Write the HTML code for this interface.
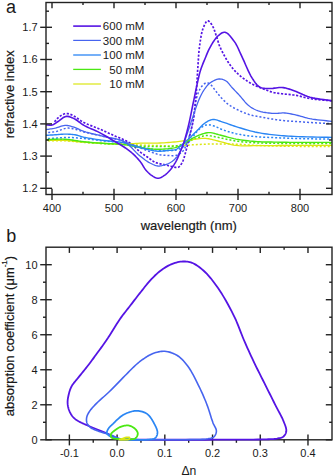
<!DOCTYPE html>
<html><head><meta charset="utf-8"><style>
html,body{margin:0;padding:0;background:#fff;}
body{width:334px;height:476px;position:relative;overflow:hidden;font-family:"Liberation Sans",sans-serif;}
</style></head><body>
<svg width="334" height="476" viewBox="0 0 334 476" style="position:absolute;left:0;top:0">
<defs><clipPath id="ca"><rect x="46" y="2.5" width="286" height="192"/></clipPath><clipPath id="cb"><rect x="46" y="247" width="286" height="195"/></clipPath></defs>
<g clip-path="url(#ca)" fill="none" stroke-linejoin="round" stroke-linecap="round">
<path d="M48.00,140.80 L50.12,140.79 L52.23,140.77 L54.33,140.74 L56.44,140.71 L58.56,140.69 L60.69,140.70 L62.83,140.73 L65.00,140.80 L67.32,140.92 L69.67,141.09 L72.03,141.30 L74.40,141.52 L76.79,141.76 L79.19,141.99 L81.59,142.21 L84.00,142.40 L86.47,142.57 L88.96,142.74 L91.46,142.90 L93.97,143.05 L96.48,143.20 L98.99,143.34 L101.50,143.47 L104.00,143.60 L106.51,143.72 L109.05,143.83 L111.60,143.94 L114.14,144.03 L116.66,144.13 L119.16,144.22 L121.61,144.31 L124.00,144.40 L126.07,144.48 L128.08,144.56 L130.05,144.64 L132.00,144.71 L133.95,144.78 L135.92,144.86 L137.93,144.93 L140.00,145.00 L142.41,145.08 L144.90,145.16 L147.43,145.24 L150.00,145.31 L152.57,145.39 L155.10,145.46 L157.59,145.53 L160.00,145.60 L162.09,145.67 L164.15,145.74 L166.18,145.83 L168.18,145.90 L170.16,145.97 L172.12,146.01 L174.06,146.02 L176.00,146.00 L177.78,145.94 L179.51,145.84 L181.21,145.72 L182.90,145.57 L184.61,145.42 L186.35,145.27 L188.14,145.13 L190.00,145.00 L192.31,144.86 L194.69,144.71 L197.12,144.56 L199.61,144.42 L202.15,144.29 L204.73,144.17 L207.35,144.07 L210.00,144.00 L213.09,143.95 L216.28,143.92 L219.55,143.91 L222.85,143.93 L226.18,143.97 L229.49,144.03 L232.78,144.10 L236.00,144.20 L239.01,144.32 L241.93,144.48 L244.80,144.67 L247.68,144.87 L250.59,145.07 L253.59,145.27 L256.71,145.45 L260.00,145.60 L264.54,145.76 L269.39,145.89 L274.45,146.01 L279.64,146.11 L284.88,146.19 L290.07,146.27 L295.14,146.34 L300.00,146.40 L304.17,146.45 L308.25,146.48 L312.26,146.51 L316.22,146.53 L320.16,146.55 L324.08,146.56 L328.02,146.58 L332.00,146.60" stroke="#dbe612" stroke-width="1.50" stroke-dasharray="2,2" stroke-linecap="butt"/>
<path d="M48.00,140.20 L50.12,140.16 L52.23,140.10 L54.34,140.04 L56.44,139.97 L58.56,139.93 L60.69,139.91 L62.83,139.93 L65.00,140.00 L67.32,140.14 L69.67,140.35 L72.03,140.60 L74.41,140.88 L76.79,141.18 L79.19,141.48 L81.59,141.76 L84.00,142.00 L86.47,142.23 L88.96,142.45 L91.46,142.67 L93.97,142.88 L96.47,143.08 L98.99,143.27 L101.50,143.44 L104.00,143.60 L106.51,143.73 L109.05,143.83 L111.60,143.90 L114.14,143.97 L116.67,144.04 L119.16,144.13 L121.61,144.24 L124.00,144.40 L126.08,144.59 L128.11,144.81 L130.09,145.07 L132.05,145.33 L134.01,145.59 L135.97,145.84 L137.96,146.04 L140.00,146.20 L142.22,146.31 L144.51,146.38 L146.83,146.41 L149.16,146.42 L151.47,146.42 L153.73,146.41 L155.92,146.40 L158.00,146.40 L159.62,146.42 L161.20,146.45 L162.73,146.48 L164.22,146.51 L165.69,146.52 L167.14,146.52 L168.57,146.48 L170.00,146.40 L171.29,146.31 L172.56,146.21 L173.80,146.10 L175.03,145.96 L176.25,145.79 L177.48,145.58 L178.73,145.32 L180.00,145.00 L181.48,144.54 L183.01,143.97 L184.55,143.33 L186.10,142.64 L187.64,141.93 L189.15,141.23 L190.61,140.58 L192.00,140.00 L193.08,139.57 L194.12,139.15 L195.14,138.75 L196.14,138.35 L197.12,137.98 L198.08,137.63 L199.04,137.30 L200.00,137.00 L200.83,136.74 L201.64,136.49 L202.44,136.25 L203.23,136.03 L204.02,135.83 L204.82,135.68 L205.65,135.56 L206.50,135.50 L207.48,135.50 L208.45,135.58 L209.44,135.71 L210.44,135.88 L211.49,136.09 L212.58,136.33 L213.75,136.57 L215.00,136.80 L217.19,137.22 L219.62,137.72 L222.23,138.29 L224.98,138.88 L227.78,139.48 L230.60,140.05 L233.35,140.57 L236.00,141.00 L238.41,141.33 L240.81,141.63 L243.18,141.89 L245.55,142.11 L247.91,142.31 L250.27,142.49 L252.63,142.65 L255.00,142.80 L257.35,142.93 L259.68,143.02 L261.99,143.09 L264.31,143.14 L266.66,143.19 L269.04,143.22 L271.48,143.26 L274.00,143.30 L277.04,143.35 L280.15,143.40 L283.33,143.45 L286.58,143.49 L289.87,143.52 L293.21,143.55 L296.59,143.58 L300.00,143.60 L303.84,143.62 L307.77,143.62 L311.76,143.63 L315.79,143.62 L319.85,143.62 L323.92,143.61 L327.98,143.60 L332.00,143.60" stroke="#4ae812" stroke-width="1.50" stroke-dasharray="2,2" stroke-linecap="butt"/>
<path d="M48.00,138.60 L48.99,138.55 L49.98,138.51 L50.96,138.46 L51.94,138.42 L52.94,138.37 L53.94,138.32 L54.96,138.26 L56.00,138.20 L57.20,138.11 L58.42,138.00 L59.67,137.87 L60.93,137.75 L62.20,137.63 L63.47,137.52 L64.74,137.45 L66.00,137.40 L67.26,137.39 L68.53,137.40 L69.80,137.44 L71.07,137.49 L72.33,137.56 L73.58,137.64 L74.80,137.72 L76.00,137.80 L77.02,137.88 L77.98,137.96 L78.91,138.05 L79.83,138.14 L80.78,138.24 L81.77,138.35 L82.83,138.47 L84.00,138.60 L86.07,138.84 L88.37,139.11 L90.84,139.42 L93.44,139.74 L96.10,140.07 L98.79,140.40 L101.44,140.71 L104.00,141.00 L106.52,141.25 L109.06,141.47 L111.61,141.68 L114.15,141.88 L116.68,142.10 L119.17,142.35 L121.62,142.64 L124.00,143.00 L126.09,143.39 L128.12,143.83 L130.10,144.32 L132.06,144.83 L134.01,145.35 L135.97,145.86 L137.96,146.35 L140.00,146.80 L142.22,147.26 L144.50,147.73 L146.82,148.19 L149.15,148.63 L151.46,149.05 L153.72,149.42 L155.91,149.74 L158.00,150.00 L159.63,150.17 L161.22,150.30 L162.78,150.41 L164.30,150.49 L165.78,150.53 L167.23,150.55 L168.63,150.54 L170.00,150.50 L171.08,150.46 L172.11,150.43 L173.11,150.39 L174.09,150.32 L175.06,150.22 L176.02,150.06 L177.00,149.82 L178.00,149.50 L179.25,148.99 L180.52,148.37 L181.81,147.65 L183.09,146.84 L184.37,145.96 L185.62,145.02 L186.83,144.03 L188.00,143.00 L189.24,141.74 L190.45,140.31 L191.62,138.76 L192.76,137.17 L193.86,135.59 L194.94,134.07 L195.98,132.69 L197.00,131.50 L197.66,130.79 L198.29,130.14 L198.90,129.52 L199.50,128.94 L200.10,128.41 L200.71,127.91 L201.34,127.44 L202.00,127.00 L202.64,126.61 L203.28,126.24 L203.94,125.89 L204.61,125.58 L205.29,125.31 L205.98,125.08 L206.69,124.91 L207.40,124.80 L208.18,124.76 L208.98,124.80 L209.80,124.90 L210.62,125.06 L211.46,125.26 L212.30,125.49 L213.15,125.74 L214.00,126.00 L214.96,126.33 L215.91,126.72 L216.86,127.16 L217.81,127.62 L218.80,128.10 L219.82,128.59 L220.88,129.06 L222.00,129.50 L223.54,130.05 L225.15,130.61 L226.84,131.17 L228.59,131.72 L230.39,132.26 L232.24,132.77 L234.11,133.25 L236.00,133.70 L238.22,134.17 L240.53,134.61 L242.89,135.02 L245.30,135.40 L247.73,135.74 L250.17,136.06 L252.60,136.34 L255.00,136.60 L257.35,136.82 L259.67,136.99 L261.99,137.12 L264.31,137.23 L266.65,137.32 L269.04,137.40 L271.48,137.49 L274.00,137.60 L277.04,137.74 L280.15,137.88 L283.33,138.01 L286.58,138.14 L289.87,138.27 L293.21,138.39 L296.59,138.50 L300.00,138.60 L303.84,138.69 L307.77,138.77 L311.76,138.83 L315.79,138.89 L319.85,138.94 L323.92,138.99 L327.98,139.04 L332.00,139.10" stroke="#2a86f4" stroke-width="1.50" stroke-dasharray="2,2" stroke-linecap="butt"/>
<path d="M48.20,132.60 L49.17,132.47 L50.12,132.36 L51.07,132.25 L52.02,132.14 L52.98,132.02 L53.96,131.88 L54.96,131.71 L56.00,131.50 L57.34,131.15 L58.74,130.68 L60.19,130.15 L61.67,129.60 L63.14,129.08 L64.61,128.62 L66.03,128.28 L67.40,128.10 L68.53,128.08 L69.64,128.14 L70.72,128.28 L71.79,128.48 L72.85,128.72 L73.91,128.98 L74.95,129.24 L76.00,129.50 L77.00,129.76 L77.94,130.04 L78.87,130.34 L79.79,130.66 L80.75,130.99 L81.75,131.33 L82.82,131.67 L84.00,132.00 L86.06,132.53 L88.36,133.07 L90.83,133.63 L93.43,134.19 L96.10,134.77 L98.79,135.34 L101.44,135.92 L104.00,136.50 L106.54,137.07 L109.13,137.63 L111.74,138.18 L114.34,138.74 L116.90,139.32 L119.38,139.91 L121.76,140.54 L124.00,141.20 L125.67,141.75 L127.25,142.33 L128.77,142.93 L130.24,143.54 L131.68,144.16 L133.11,144.78 L134.54,145.40 L136.00,146.00 L137.41,146.58 L138.81,147.17 L140.19,147.75 L141.57,148.34 L142.95,148.92 L144.35,149.49 L145.76,150.05 L147.20,150.60 L148.77,151.18 L150.39,151.79 L152.05,152.39 L153.71,152.98 L155.36,153.54 L156.97,154.04 L158.52,154.46 L160.00,154.80 L161.08,154.99 L162.11,155.13 L163.11,155.22 L164.09,155.29 L165.06,155.33 L166.03,155.35 L167.00,155.37 L168.00,155.40 L169.04,155.45 L170.10,155.53 L171.17,155.61 L172.23,155.67 L173.29,155.69 L174.32,155.65 L175.33,155.52 L176.30,155.30 L177.22,154.99 L178.13,154.61 L179.03,154.16 L179.90,153.65 L180.74,153.08 L181.54,152.44 L182.29,151.75 L183.00,151.00 L183.75,150.01 L184.43,148.89 L185.04,147.67 L185.60,146.38 L186.12,145.04 L186.62,143.68 L187.11,142.32 L187.60,141.00 L188.09,139.67 L188.57,138.32 L189.01,136.96 L189.44,135.59 L189.85,134.20 L190.25,132.81 L190.63,131.41 L191.00,130.00 L191.37,128.54 L191.71,127.09 L192.04,125.63 L192.35,124.15 L192.65,122.66 L192.94,121.14 L193.22,119.59 L193.50,118.00 L193.79,116.10 L194.03,114.11 L194.24,112.06 L194.45,109.99 L194.67,107.92 L194.92,105.87 L195.23,103.89 L195.60,102.00 L195.98,100.37 L196.40,98.74 L196.84,97.12 L197.32,95.55 L197.82,94.03 L198.35,92.59 L198.91,91.24 L199.50,90.00 L199.95,89.15 L200.42,88.34 L200.90,87.58 L201.40,86.85 L201.91,86.18 L202.43,85.56 L202.96,85.00 L203.50,84.50 L203.92,84.15 L204.34,83.82 L204.78,83.51 L205.21,83.24 L205.66,83.01 L206.10,82.84 L206.55,82.73 L207.00,82.70 L207.49,82.76 L207.99,82.91 L208.49,83.14 L209.00,83.44 L209.50,83.78 L210.01,84.17 L210.51,84.58 L211.00,85.00 L211.64,85.62 L212.26,86.33 L212.87,87.11 L213.49,87.95 L214.10,88.82 L214.72,89.69 L215.35,90.56 L216.00,91.40 L216.71,92.28 L217.44,93.18 L218.17,94.09 L218.92,94.99 L219.67,95.90 L220.44,96.79 L221.21,97.66 L222.00,98.50 L222.77,99.30 L223.54,100.09 L224.32,100.87 L225.12,101.63 L225.92,102.38 L226.75,103.11 L227.61,103.82 L228.50,104.50 L229.47,105.19 L230.46,105.86 L231.48,106.50 L232.53,107.12 L233.61,107.73 L234.71,108.32 L235.84,108.91 L237.00,109.50 L238.37,110.18 L239.78,110.85 L241.23,111.52 L242.72,112.17 L244.24,112.80 L245.79,113.40 L247.38,113.97 L249.00,114.50 L250.87,115.03 L252.82,115.52 L254.82,115.95 L256.86,116.35 L258.91,116.73 L260.97,117.09 L263.00,117.44 L265.00,117.80 L266.88,118.14 L268.73,118.48 L270.56,118.80 L272.39,119.11 L274.23,119.40 L276.10,119.68 L278.02,119.95 L280.00,120.20 L282.33,120.46 L284.68,120.69 L287.08,120.89 L289.52,121.08 L292.03,121.26 L294.60,121.43 L297.26,121.61 L300.00,121.80 L303.64,122.05 L307.47,122.30 L311.45,122.55 L315.53,122.80 L319.67,123.05 L323.82,123.30 L327.95,123.55 L332.00,123.80" stroke="#4664ef" stroke-width="1.50" stroke-dasharray="2,2" stroke-linecap="butt"/>
<path d="M54.50,121.80 L55.05,121.19 L55.59,120.56 L56.11,119.93 L56.65,119.30 L57.19,118.69 L57.76,118.09 L58.36,117.53 L59.00,117.00 L59.73,116.46 L60.51,115.91 L61.33,115.38 L62.17,114.88 L63.03,114.43 L63.89,114.05 L64.75,113.77 L65.60,113.60 L66.38,113.54 L67.15,113.57 L67.92,113.67 L68.70,113.83 L69.49,114.06 L70.30,114.33 L71.13,114.65 L72.00,115.00 L73.34,115.65 L74.73,116.47 L76.18,117.44 L77.67,118.49 L79.20,119.58 L80.77,120.66 L82.37,121.68 L84.00,122.60 L85.83,123.49 L87.73,124.33 L89.69,125.13 L91.68,125.90 L93.69,126.66 L95.69,127.42 L97.67,128.19 L99.60,129.00 L101.45,129.82 L103.31,130.66 L105.16,131.52 L107.00,132.38 L108.82,133.23 L110.59,134.06 L112.33,134.85 L114.00,135.60 L115.34,136.17 L116.65,136.71 L117.94,137.22 L119.20,137.71 L120.43,138.21 L121.64,138.71 L122.83,139.24 L124.00,139.80 L125.06,140.34 L126.10,140.87 L127.11,141.42 L128.11,141.98 L129.09,142.56 L130.07,143.17 L131.04,143.81 L132.00,144.50 L133.03,145.31 L134.04,146.19 L135.03,147.13 L136.02,148.09 L137.00,149.06 L137.99,150.02 L138.98,150.94 L140.00,151.80 L140.98,152.57 L141.98,153.32 L142.98,154.05 L143.98,154.76 L144.99,155.45 L146.00,156.14 L147.00,156.82 L148.00,157.50 L148.94,158.17 L149.87,158.85 L150.79,159.53 L151.71,160.20 L152.65,160.85 L153.60,161.45 L154.58,162.01 L155.60,162.50 L156.71,162.93 L157.87,163.29 L159.07,163.59 L160.29,163.85 L161.51,164.09 L162.71,164.32 L163.88,164.55 L165.00,164.80 L165.93,165.03 L166.83,165.26 L167.72,165.50 L168.59,165.72 L169.45,165.94 L170.30,166.14 L171.15,166.33 L172.00,166.50 L172.80,166.68 L173.62,166.89 L174.44,167.11 L175.25,167.32 L176.04,167.46 L176.80,167.53 L177.52,167.49 L178.20,167.30 L178.87,166.93 L179.50,166.41 L180.09,165.76 L180.65,165.02 L181.17,164.21 L181.67,163.35 L182.14,162.47 L182.60,161.60 L183.11,160.51 L183.57,159.35 L183.99,158.12 L184.37,156.84 L184.73,155.53 L185.08,154.19 L185.43,152.84 L185.80,151.50 L186.21,150.01 L186.60,148.52 L186.98,147.00 L187.35,145.45 L187.73,143.88 L188.10,142.27 L188.49,140.61 L188.90,138.90 L189.43,136.74 L190.00,134.50 L190.58,132.20 L191.18,129.84 L191.76,127.44 L192.32,124.99 L192.83,122.51 L193.30,120.00 L193.75,117.17 L194.16,114.29 L194.52,111.36 L194.85,108.39 L195.15,105.36 L195.44,102.29 L195.72,99.17 L196.00,96.00 L196.30,92.27 L196.58,88.36 L196.83,84.34 L197.07,80.28 L197.30,76.25 L197.52,72.32 L197.76,68.54 L198.00,65.00 L198.18,62.39 L198.35,59.88 L198.51,57.47 L198.67,55.11 L198.84,52.80 L199.05,50.51 L199.30,48.22 L199.60,45.90 L199.93,43.57 L200.27,41.17 L200.65,38.75 L201.05,36.36 L201.50,34.04 L202.00,31.84 L202.57,29.81 L203.20,28.00 L203.68,26.82 L204.19,25.60 L204.74,24.42 L205.30,23.32 L205.89,22.35 L206.49,21.57 L207.09,21.04 L207.70,20.80 L208.22,20.85 L208.76,21.11 L209.32,21.55 L209.88,22.11 L210.43,22.78 L210.98,23.50 L211.50,24.26 L212.00,25.00 L212.69,26.17 L213.33,27.53 L213.95,29.03 L214.54,30.63 L215.10,32.27 L215.65,33.91 L216.18,35.50 L216.70,37.00 L217.13,38.27 L217.52,39.51 L217.87,40.72 L218.22,41.92 L218.58,43.13 L218.98,44.37 L219.45,45.65 L220.00,47.00 L220.90,48.97 L221.94,51.11 L223.09,53.35 L224.32,55.63 L225.59,57.89 L226.86,60.06 L228.11,62.09 L229.30,63.90 L230.14,65.10 L230.96,66.22 L231.78,67.28 L232.60,68.28 L233.42,69.24 L234.26,70.17 L235.12,71.08 L236.00,72.00 L236.87,72.87 L237.74,73.71 L238.63,74.52 L239.53,75.32 L240.45,76.10 L241.40,76.87 L242.38,77.63 L243.40,78.40 L244.61,79.27 L245.86,80.14 L247.16,81.01 L248.50,81.86 L249.86,82.70 L251.24,83.50 L252.62,84.27 L254.00,85.00 L255.38,85.67 L256.80,86.31 L258.24,86.92 L259.68,87.50 L261.13,88.05 L262.55,88.58 L263.95,89.10 L265.30,89.60 L266.41,90.03 L267.45,90.44 L268.45,90.83 L269.44,91.22 L270.46,91.58 L271.54,91.94 L272.71,92.28 L274.00,92.60 L276.32,93.05 L278.96,93.43 L281.83,93.76 L284.83,94.06 L287.88,94.35 L290.87,94.66 L293.71,95.00 L296.30,95.40 L298.16,95.77 L299.89,96.17 L301.54,96.59 L303.15,97.03 L304.77,97.46 L306.42,97.87 L308.15,98.26 L310.00,98.60 L312.49,98.97 L315.12,99.29 L317.86,99.57 L320.66,99.83 L323.51,100.06 L326.37,100.30 L329.21,100.54 L332.00,100.80" stroke="#5514e4" stroke-width="1.70" stroke-dasharray="2.2,1.6" stroke-linecap="butt"/>
<path d="M46.00,140.40 L48.38,140.39 L50.75,140.36 L53.13,140.32 L55.50,140.29 L57.88,140.27 L60.25,140.27 L62.63,140.31 L65.00,140.40 L67.37,140.54 L69.74,140.74 L72.11,140.97 L74.47,141.23 L76.84,141.49 L79.21,141.75 L81.60,141.99 L84.00,142.20 L86.47,142.38 L88.96,142.56 L91.46,142.72 L93.97,142.87 L96.48,143.01 L98.99,143.14 L101.50,143.27 L104.00,143.40 L106.51,143.53 L109.05,143.68 L111.60,143.82 L114.14,143.95 L116.66,144.07 L119.16,144.15 L121.61,144.20 L124.00,144.20 L126.07,144.15 L128.08,144.05 L130.05,143.91 L132.00,143.75 L133.95,143.59 L135.92,143.43 L137.93,143.30 L140.00,143.20 L142.41,143.14 L144.89,143.11 L147.43,143.11 L150.00,143.11 L152.57,143.12 L155.11,143.11 L157.59,143.08 L160.00,143.00 L162.09,142.90 L164.15,142.79 L166.18,142.65 L168.18,142.51 L170.16,142.35 L172.12,142.17 L174.07,141.99 L176.00,141.80 L177.79,141.60 L179.55,141.39 L181.29,141.16 L183.02,140.92 L184.74,140.68 L186.47,140.45 L188.22,140.22 L190.00,140.00 L191.91,139.75 L193.86,139.47 L195.83,139.17 L197.81,138.89 L199.78,138.64 L201.73,138.46 L203.64,138.37 L205.50,138.40 L207.12,138.53 L208.68,138.76 L210.20,139.05 L211.70,139.40 L213.21,139.79 L214.75,140.19 L216.34,140.60 L218.00,141.00 L220.08,141.51 L222.21,142.10 L224.39,142.72 L226.62,143.36 L228.90,143.98 L231.22,144.55 L233.59,145.03 L236.00,145.40 L238.78,145.67 L241.59,145.82 L244.46,145.86 L247.39,145.84 L250.39,145.77 L253.48,145.69 L256.68,145.62 L260.00,145.60 L264.54,145.60 L269.39,145.58 L274.45,145.55 L279.64,145.52 L284.88,145.48 L290.08,145.45 L295.14,145.42 L300.00,145.40 L304.17,145.39 L308.25,145.39 L312.26,145.39 L316.22,145.39 L320.16,145.39 L324.08,145.40 L328.02,145.40 L332.00,145.40" stroke="#dbe612" stroke-width="1.30"/>
<path d="M46.00,139.60 L48.38,139.53 L50.75,139.43 L53.13,139.32 L55.51,139.21 L57.88,139.13 L60.26,139.09 L62.63,139.11 L65.00,139.20 L67.38,139.39 L69.74,139.66 L72.11,140.00 L74.47,140.38 L76.84,140.77 L79.21,141.15 L81.60,141.50 L84.00,141.80 L86.47,142.05 L88.96,142.28 L91.46,142.50 L93.96,142.69 L96.47,142.88 L98.99,143.05 L101.50,143.23 L104.00,143.40 L106.52,143.55 L109.05,143.68 L111.60,143.79 L114.15,143.89 L116.67,144.01 L119.17,144.16 L121.61,144.35 L124.00,144.60 L126.09,144.89 L128.14,145.23 L130.16,145.61 L132.15,146.01 L134.12,146.42 L136.08,146.82 L138.03,147.18 L140.00,147.50 L141.89,147.78 L143.78,148.06 L145.65,148.32 L147.52,148.57 L149.39,148.79 L151.26,148.97 L153.13,149.11 L155.00,149.20 L156.90,149.24 L158.82,149.25 L160.76,149.22 L162.70,149.16 L164.61,149.05 L166.47,148.91 L168.28,148.73 L170.00,148.50 L171.35,148.29 L172.65,148.08 L173.90,147.84 L175.13,147.57 L176.33,147.27 L177.54,146.91 L178.76,146.49 L180.00,146.00 L181.48,145.30 L182.98,144.47 L184.49,143.53 L186.00,142.53 L187.50,141.52 L188.98,140.53 L190.41,139.61 L191.80,138.80 L192.88,138.21 L193.91,137.64 L194.92,137.10 L195.92,136.58 L196.91,136.09 L197.91,135.63 L198.94,135.20 L200.00,134.80 L201.13,134.40 L202.29,134.01 L203.47,133.64 L204.66,133.30 L205.86,133.02 L207.07,132.80 L208.28,132.65 L209.50,132.60 L210.77,132.66 L212.04,132.84 L213.30,133.11 L214.58,133.45 L215.88,133.83 L217.21,134.23 L218.58,134.63 L220.00,135.00 L221.83,135.47 L223.73,135.98 L225.69,136.53 L227.69,137.08 L229.74,137.64 L231.81,138.17 L233.90,138.67 L236.00,139.10 L238.29,139.51 L240.62,139.89 L242.99,140.23 L245.38,140.54 L247.79,140.82 L250.20,141.08 L252.61,141.30 L255.00,141.50 L257.35,141.66 L259.68,141.78 L261.99,141.87 L264.31,141.93 L266.65,141.98 L269.04,142.01 L271.48,142.05 L274.00,142.10 L277.04,142.16 L280.15,142.21 L283.33,142.26 L286.58,142.29 L289.87,142.33 L293.21,142.36 L296.59,142.38 L300.00,142.40 L303.84,142.42 L307.77,142.42 L311.76,142.43 L315.79,142.42 L319.85,142.42 L323.92,142.41 L327.98,142.40 L332.00,142.40" stroke="#4ae812" stroke-width="1.40"/>
<path d="M46.00,135.30 L47.12,135.24 L48.24,135.18 L49.35,135.12 L50.47,135.06 L51.59,135.00 L52.72,134.94 L53.85,134.87 L55.00,134.80 L56.23,134.71 L57.46,134.60 L58.71,134.49 L59.97,134.37 L61.23,134.27 L62.49,134.18 L63.75,134.12 L65.00,134.10 L66.25,134.11 L67.52,134.13 L68.78,134.18 L70.04,134.25 L71.30,134.34 L72.55,134.46 L73.78,134.62 L75.00,134.80 L76.13,135.02 L77.21,135.28 L78.26,135.58 L79.31,135.90 L80.38,136.24 L81.51,136.57 L82.70,136.89 L84.00,137.20 L86.12,137.63 L88.43,138.07 L90.91,138.50 L93.49,138.93 L96.14,139.35 L98.81,139.75 L101.44,140.14 L104.00,140.50 L106.51,140.81 L109.05,141.07 L111.61,141.30 L114.16,141.52 L116.68,141.75 L119.18,142.03 L121.62,142.37 L124.00,142.80 L126.09,143.29 L128.12,143.85 L130.10,144.47 L132.06,145.12 L134.01,145.78 L135.97,146.43 L137.96,147.05 L140.00,147.60 L142.23,148.16 L144.53,148.73 L146.88,149.29 L149.24,149.82 L151.57,150.30 L153.83,150.70 L155.99,151.01 L158.00,151.20 L159.39,151.25 L160.72,151.24 L162.01,151.17 L163.25,151.06 L164.46,150.93 L165.65,150.78 L166.82,150.63 L168.00,150.50 L169.06,150.41 L170.13,150.33 L171.19,150.26 L172.24,150.18 L173.25,150.07 L174.22,149.91 L175.14,149.70 L176.00,149.40 L176.65,149.09 L177.24,148.74 L177.78,148.35 L178.30,147.93 L178.81,147.48 L179.34,147.01 L179.89,146.51 L180.50,146.00 L181.42,145.24 L182.41,144.42 L183.44,143.55 L184.50,142.64 L185.58,141.70 L186.67,140.74 L187.75,139.77 L188.80,138.80 L189.91,137.76 L191.02,136.68 L192.13,135.58 L193.24,134.46 L194.35,133.34 L195.45,132.23 L196.53,131.15 L197.60,130.10 L198.54,129.15 L199.46,128.19 L200.36,127.23 L201.25,126.29 L202.15,125.38 L203.07,124.51 L204.02,123.72 L205.00,123.00 L205.94,122.38 L206.90,121.79 L207.89,121.23 L208.89,120.71 L209.90,120.27 L210.92,119.91 L211.96,119.65 L213.00,119.50 L214.08,119.49 L215.15,119.62 L216.24,119.86 L217.34,120.19 L218.46,120.58 L219.60,120.99 L220.78,121.41 L222.00,121.80 L223.59,122.30 L225.24,122.85 L226.93,123.45 L228.67,124.07 L230.45,124.72 L232.27,125.36 L234.12,125.99 L236.00,126.60 L238.23,127.30 L240.53,128.02 L242.89,128.75 L245.29,129.46 L247.72,130.16 L250.16,130.83 L252.59,131.44 L255.00,132.00 L257.36,132.49 L259.72,132.93 L262.08,133.33 L264.45,133.69 L266.82,134.02 L269.20,134.33 L271.60,134.62 L274.00,134.90 L276.43,135.16 L278.81,135.39 L281.18,135.60 L283.56,135.78 L286.01,135.95 L288.54,136.11 L291.19,136.25 L294.00,136.40 L298.17,136.58 L302.65,136.74 L307.36,136.87 L312.24,136.98 L317.22,137.08 L322.22,137.18 L327.17,137.28 L332.00,137.40" stroke="#2a86f4" stroke-width="1.40"/>
<path d="M46.00,129.60 L47.12,129.43 L48.24,129.28 L49.36,129.13 L50.48,128.97 L51.60,128.81 L52.73,128.63 L53.86,128.43 L55.00,128.20 L56.23,127.88 L57.48,127.48 L58.74,127.04 L60.00,126.58 L61.26,126.15 L62.52,125.79 L63.77,125.53 L65.00,125.40 L66.14,125.41 L67.27,125.50 L68.40,125.67 L69.51,125.91 L70.63,126.19 L71.75,126.51 L72.87,126.85 L74.00,127.20 L75.21,127.62 L76.40,128.10 L77.57,128.62 L78.75,129.18 L79.96,129.75 L81.23,130.32 L82.57,130.88 L84.00,131.40 L86.16,132.08 L88.49,132.73 L90.97,133.37 L93.55,134.00 L96.18,134.62 L98.83,135.24 L101.45,135.87 L104.00,136.50 L106.53,137.08 L109.10,137.57 L111.69,138.02 L114.27,138.49 L116.81,139.04 L119.30,139.70 L121.71,140.54 L124.00,141.60 L126.24,143.00 L128.39,144.68 L130.46,146.58 L132.47,148.58 L134.42,150.62 L136.32,152.59 L138.18,154.42 L140.00,156.00 L141.34,157.06 L142.63,158.07 L143.90,159.03 L145.14,159.94 L146.36,160.79 L147.57,161.59 L148.78,162.33 L150.00,163.00 L151.02,163.53 L152.05,164.04 L153.07,164.52 L154.08,164.95 L155.09,165.32 L156.08,165.63 L157.05,165.86 L158.00,166.00 L158.78,166.04 L159.55,166.00 L160.31,165.91 L161.05,165.77 L161.79,165.60 L162.53,165.41 L163.26,165.20 L164.00,165.00 L164.76,164.80 L165.52,164.59 L166.29,164.36 L167.04,164.11 L167.80,163.84 L168.54,163.53 L169.28,163.19 L170.00,162.80 L170.80,162.31 L171.59,161.77 L172.38,161.19 L173.16,160.56 L173.92,159.90 L174.65,159.22 L175.35,158.51 L176.00,157.80 L176.59,157.09 L177.14,156.36 L177.66,155.60 L178.15,154.83 L178.62,154.03 L179.08,153.21 L179.54,152.37 L180.00,151.50 L180.52,150.50 L181.02,149.50 L181.50,148.49 L181.97,147.44 L182.45,146.33 L182.94,145.16 L183.45,143.88 L184.00,142.50 L185.05,139.73 L186.20,136.50 L187.44,132.94 L188.71,129.18 L189.99,125.37 L191.24,121.65 L192.42,118.14 L193.50,115.00 L194.23,112.88 L194.91,110.85 L195.55,108.89 L196.18,107.00 L196.81,105.18 L197.44,103.41 L198.10,101.68 L198.80,100.00 L199.41,98.62 L200.02,97.28 L200.63,95.97 L201.26,94.70 L201.91,93.47 L202.58,92.28 L203.27,91.12 L204.00,90.00 L204.67,89.01 L205.35,88.04 L206.04,87.10 L206.76,86.19 L207.50,85.31 L208.28,84.49 L209.11,83.71 L210.00,83.00 L211.00,82.30 L212.07,81.61 L213.21,80.96 L214.38,80.37 L215.57,79.86 L216.75,79.44 L217.90,79.15 L219.00,79.00 L219.92,78.98 L220.83,79.06 L221.74,79.22 L222.64,79.45 L223.51,79.76 L224.37,80.12 L225.20,80.54 L226.00,81.00 L226.83,81.59 L227.61,82.29 L228.34,83.07 L229.06,83.92 L229.76,84.80 L230.48,85.71 L231.22,86.62 L232.00,87.50 L232.94,88.51 L233.92,89.54 L234.92,90.59 L235.93,91.66 L236.96,92.74 L237.98,93.82 L239.00,94.91 L240.00,96.00 L241.00,97.13 L241.98,98.31 L242.96,99.50 L243.94,100.70 L244.92,101.87 L245.93,102.99 L246.95,104.04 L248.00,105.00 L248.95,105.78 L249.91,106.50 L250.88,107.19 L251.87,107.83 L252.87,108.43 L253.90,108.99 L254.94,109.51 L256.00,110.00 L257.10,110.45 L258.23,110.84 L259.38,111.20 L260.55,111.51 L261.73,111.79 L262.92,112.05 L264.11,112.28 L265.30,112.50 L266.50,112.70 L267.70,112.87 L268.91,113.01 L270.12,113.13 L271.34,113.23 L272.56,113.30 L273.78,113.36 L275.00,113.40 L276.21,113.40 L277.41,113.34 L278.61,113.24 L279.81,113.14 L281.02,113.04 L282.25,112.97 L283.51,112.95 L284.80,113.00 L286.37,113.15 L287.99,113.38 L289.65,113.67 L291.33,114.00 L293.02,114.36 L294.71,114.74 L296.37,115.13 L298.00,115.50 L299.51,115.87 L300.96,116.27 L302.38,116.69 L303.80,117.11 L305.25,117.54 L306.75,117.95 L308.32,118.34 L310.00,118.70 L312.42,119.12 L315.02,119.50 L317.75,119.84 L320.57,120.16 L323.45,120.47 L326.34,120.77 L329.20,121.07 L332.00,121.40" stroke="#4664ef" stroke-width="1.30"/>
<path d="M46.00,124.80 L46.75,124.85 L47.51,124.93 L48.27,125.02 L49.03,125.11 L49.78,125.17 L50.53,125.18 L51.27,125.13 L52.00,125.00 L52.77,124.75 L53.51,124.41 L54.25,124.00 L54.98,123.54 L55.71,123.04 L56.46,122.52 L57.22,122.00 L58.00,121.50 L58.95,120.86 L59.91,120.12 L60.90,119.33 L61.90,118.54 L62.91,117.80 L63.93,117.16 L64.97,116.68 L66.00,116.40 L66.97,116.33 L67.96,116.40 L68.95,116.59 L69.95,116.88 L70.96,117.25 L71.97,117.67 L72.98,118.13 L74.00,118.60 L75.21,119.24 L76.41,120.00 L77.60,120.85 L78.80,121.76 L80.03,122.70 L81.29,123.64 L82.61,124.55 L84.00,125.40 L85.77,126.34 L87.64,127.24 L89.60,128.11 L91.62,128.98 L93.65,129.84 L95.68,130.73 L97.67,131.64 L99.60,132.60 L101.45,133.60 L103.31,134.64 L105.15,135.71 L106.97,136.80 L108.77,137.89 L110.52,138.97 L112.24,140.01 L113.90,141.00 L115.26,141.79 L116.58,142.56 L117.88,143.30 L119.15,144.03 L120.40,144.75 L121.62,145.49 L122.82,146.23 L124.00,147.00 L125.06,147.72 L126.10,148.43 L127.12,149.14 L128.11,149.87 L129.09,150.61 L130.07,151.37 L131.03,152.17 L132.00,153.00 L133.04,153.94 L134.09,154.92 L135.12,155.93 L136.15,156.97 L137.16,158.03 L138.14,159.11 L139.09,160.20 L140.00,161.30 L140.82,162.39 L141.60,163.53 L142.33,164.69 L143.05,165.87 L143.75,167.03 L144.47,168.15 L145.22,169.21 L146.00,170.20 L146.71,171.01 L147.43,171.79 L148.16,172.54 L148.91,173.25 L149.66,173.93 L150.43,174.57 L151.21,175.16 L152.00,175.70 L152.72,176.17 L153.46,176.63 L154.21,177.06 L154.96,177.46 L155.72,177.80 L156.49,178.07 L157.25,178.24 L158.00,178.30 L158.75,178.24 L159.51,178.07 L160.28,177.80 L161.04,177.46 L161.79,177.06 L162.54,176.63 L163.28,176.17 L164.00,175.70 L164.79,175.16 L165.57,174.57 L166.33,173.93 L167.09,173.25 L167.83,172.53 L168.57,171.78 L169.29,171.00 L170.00,170.20 L170.81,169.23 L171.61,168.20 L172.40,167.12 L173.17,166.00 L173.93,164.86 L174.65,163.70 L175.35,162.55 L176.00,161.40 L176.59,160.30 L177.13,159.19 L177.64,158.08 L178.13,156.95 L178.60,155.82 L179.06,154.68 L179.53,153.54 L180.00,152.40 L180.48,151.26 L180.95,150.15 L181.42,149.04 L181.88,147.92 L182.33,146.78 L182.79,145.59 L183.24,144.33 L183.70,143.00 L184.32,141.05 L184.95,138.97 L185.58,136.78 L186.20,134.50 L186.82,132.16 L187.43,129.78 L188.02,127.38 L188.60,125.00 L189.21,122.36 L189.81,119.65 L190.39,116.90 L190.96,114.11 L191.52,111.32 L192.08,108.52 L192.64,105.74 L193.20,103.00 L193.76,100.31 L194.32,97.58 L194.88,94.83 L195.44,92.10 L195.99,89.42 L196.54,86.82 L197.08,84.34 L197.60,82.00 L197.98,80.34 L198.33,78.75 L198.68,77.24 L199.02,75.77 L199.37,74.33 L199.75,72.90 L200.15,71.47 L200.60,70.00 L201.11,68.48 L201.66,66.96 L202.24,65.43 L202.84,63.92 L203.45,62.41 L204.08,60.92 L204.69,59.45 L205.30,58.00 L205.84,56.68 L206.36,55.39 L206.87,54.12 L207.39,52.85 L207.93,51.60 L208.50,50.34 L209.12,49.08 L209.80,47.80 L210.65,46.28 L211.56,44.68 L212.53,43.05 L213.55,41.43 L214.61,39.86 L215.69,38.40 L216.79,37.10 L217.90,36.00 L218.74,35.26 L219.61,34.54 L220.49,33.87 L221.38,33.28 L222.28,32.79 L223.19,32.45 L224.10,32.27 L225.00,32.30 L226.18,32.68 L227.39,33.43 L228.62,34.47 L229.85,35.74 L231.06,37.16 L232.23,38.66 L233.35,40.16 L234.40,41.60 L235.45,43.16 L236.40,44.80 L237.29,46.50 L238.13,48.28 L238.95,50.11 L239.79,51.99 L240.66,53.92 L241.60,55.90 L242.84,58.54 L244.13,61.43 L245.44,64.46 L246.79,67.54 L248.16,70.57 L249.54,73.46 L250.92,76.10 L252.30,78.40 L253.23,79.81 L254.13,81.16 L255.03,82.43 L255.93,83.62 L256.87,84.70 L257.84,85.67 L258.88,86.50 L260.00,87.20 L261.11,87.69 L262.29,88.04 L263.51,88.27 L264.77,88.40 L266.06,88.46 L267.37,88.48 L268.69,88.48 L270.00,88.50 L271.45,88.47 L272.95,88.34 L274.47,88.14 L276.01,87.92 L277.54,87.70 L279.06,87.54 L280.55,87.46 L282.00,87.50 L283.28,87.64 L284.51,87.84 L285.71,88.09 L286.90,88.40 L288.10,88.75 L289.34,89.13 L290.63,89.55 L292.00,90.00 L294.00,90.72 L296.09,91.58 L298.28,92.54 L300.54,93.56 L302.85,94.58 L305.21,95.56 L307.60,96.45 L310.00,97.20 L312.62,97.85 L315.30,98.40 L318.05,98.86 L320.83,99.27 L323.63,99.64 L326.43,100.00 L329.23,100.38 L332.00,100.80" stroke="#5514e4" stroke-width="1.60"/>
</g>
<g stroke="#222222" stroke-width="1.40" fill="none" stroke-linecap="butt">
<rect x="46" y="2.5" width="286" height="192"/>
<line x1="52.00" y1="188.8" x2="52.00" y2="200"/>
<line x1="52.00" y1="2.5" x2="52.00" y2="8.2"/>
<line x1="114.00" y1="188.8" x2="114.00" y2="200"/>
<line x1="114.00" y1="2.5" x2="114.00" y2="8.2"/>
<line x1="176.00" y1="188.8" x2="176.00" y2="200"/>
<line x1="176.00" y1="2.5" x2="176.00" y2="8.2"/>
<line x1="238.00" y1="188.8" x2="238.00" y2="200"/>
<line x1="238.00" y1="2.5" x2="238.00" y2="8.2"/>
<line x1="300.00" y1="188.8" x2="300.00" y2="200"/>
<line x1="300.00" y1="2.5" x2="300.00" y2="8.2"/>
<line x1="83.00" y1="191.8" x2="83.00" y2="194.5"/>
<line x1="83.00" y1="2.5" x2="83.00" y2="5.0"/>
<line x1="145.00" y1="191.8" x2="145.00" y2="194.5"/>
<line x1="145.00" y1="2.5" x2="145.00" y2="5.0"/>
<line x1="207.00" y1="191.8" x2="207.00" y2="194.5"/>
<line x1="207.00" y1="2.5" x2="207.00" y2="5.0"/>
<line x1="269.00" y1="191.8" x2="269.00" y2="194.5"/>
<line x1="269.00" y1="2.5" x2="269.00" y2="5.0"/>
<line x1="40.2" y1="188.30" x2="52" y2="188.30"/>
<line x1="326" y1="188.30" x2="332" y2="188.30"/>
<line x1="40.2" y1="156.10" x2="52" y2="156.10"/>
<line x1="326" y1="156.10" x2="332" y2="156.10"/>
<line x1="40.2" y1="123.90" x2="52" y2="123.90"/>
<line x1="326" y1="123.90" x2="332" y2="123.90"/>
<line x1="40.2" y1="91.70" x2="52" y2="91.70"/>
<line x1="326" y1="91.70" x2="332" y2="91.70"/>
<line x1="40.2" y1="59.50" x2="52" y2="59.50"/>
<line x1="326" y1="59.50" x2="332" y2="59.50"/>
<line x1="40.2" y1="27.30" x2="52" y2="27.30"/>
<line x1="326" y1="27.30" x2="332" y2="27.30"/>
<line x1="46" y1="172.20" x2="49" y2="172.20"/>
<line x1="329" y1="172.20" x2="332" y2="172.20"/>
<line x1="46" y1="140.00" x2="49" y2="140.00"/>
<line x1="329" y1="140.00" x2="332" y2="140.00"/>
<line x1="46" y1="107.80" x2="49" y2="107.80"/>
<line x1="329" y1="107.80" x2="332" y2="107.80"/>
<line x1="46" y1="75.60" x2="49" y2="75.60"/>
<line x1="329" y1="75.60" x2="332" y2="75.60"/>
<line x1="46" y1="43.40" x2="49" y2="43.40"/>
<line x1="329" y1="43.40" x2="332" y2="43.40"/>
<line x1="46" y1="11.20" x2="49" y2="11.20"/>
<line x1="329" y1="11.20" x2="332" y2="11.20"/>
</g>
<line x1="73.2" y1="26.10" x2="100.9" y2="26.10" stroke="#5514e4" stroke-width="1.60"/>
<line x1="73.2" y1="40.40" x2="100.9" y2="40.40" stroke="#4664ef" stroke-width="1.20"/>
<line x1="73.2" y1="55.00" x2="100.9" y2="55.00" stroke="#2a86f4" stroke-width="1.30"/>
<line x1="73.2" y1="69.40" x2="100.9" y2="69.40" stroke="#4ae812" stroke-width="1.30"/>
<line x1="73.2" y1="84.00" x2="100.9" y2="84.00" stroke="#dbe612" stroke-width="1.20"/>
<g stroke="#222222" stroke-width="1.40" fill="none" stroke-linecap="butt">
<rect x="46" y="247.2" width="286" height="192.6"/>
<line x1="69.38" y1="434.5" x2="69.38" y2="445.4"/>
<line x1="69.38" y1="247.2" x2="69.38" y2="252.9"/>
<line x1="117.10" y1="434.5" x2="117.10" y2="445.4"/>
<line x1="117.10" y1="247.2" x2="117.10" y2="252.9"/>
<line x1="164.82" y1="434.5" x2="164.82" y2="445.4"/>
<line x1="164.82" y1="247.2" x2="164.82" y2="252.9"/>
<line x1="212.54" y1="434.5" x2="212.54" y2="445.4"/>
<line x1="212.54" y1="247.2" x2="212.54" y2="252.9"/>
<line x1="260.26" y1="434.5" x2="260.26" y2="445.4"/>
<line x1="260.26" y1="247.2" x2="260.26" y2="252.9"/>
<line x1="307.98" y1="434.5" x2="307.98" y2="445.4"/>
<line x1="307.98" y1="247.2" x2="307.98" y2="252.9"/>
<line x1="93.24" y1="439.8" x2="93.24" y2="442.8"/>
<line x1="93.24" y1="247.2" x2="93.24" y2="249.8"/>
<line x1="140.96" y1="439.8" x2="140.96" y2="442.8"/>
<line x1="140.96" y1="247.2" x2="140.96" y2="249.8"/>
<line x1="188.68" y1="439.8" x2="188.68" y2="442.8"/>
<line x1="188.68" y1="247.2" x2="188.68" y2="249.8"/>
<line x1="236.40" y1="439.8" x2="236.40" y2="442.8"/>
<line x1="236.40" y1="247.2" x2="236.40" y2="249.8"/>
<line x1="284.12" y1="439.8" x2="284.12" y2="442.8"/>
<line x1="284.12" y1="247.2" x2="284.12" y2="249.8"/>
<line x1="40.2" y1="439.80" x2="51.8" y2="439.80"/>
<line x1="325.8" y1="439.80" x2="332" y2="439.80"/>
<line x1="40.2" y1="404.78" x2="51.8" y2="404.78"/>
<line x1="325.8" y1="404.78" x2="332" y2="404.78"/>
<line x1="40.2" y1="369.76" x2="51.8" y2="369.76"/>
<line x1="325.8" y1="369.76" x2="332" y2="369.76"/>
<line x1="40.2" y1="334.74" x2="51.8" y2="334.74"/>
<line x1="325.8" y1="334.74" x2="332" y2="334.74"/>
<line x1="40.2" y1="299.72" x2="51.8" y2="299.72"/>
<line x1="325.8" y1="299.72" x2="332" y2="299.72"/>
<line x1="40.2" y1="264.70" x2="51.8" y2="264.70"/>
<line x1="325.8" y1="264.70" x2="332" y2="264.70"/>
<line x1="43" y1="422.29" x2="46" y2="422.29"/>
<line x1="329.2" y1="422.29" x2="332" y2="422.29"/>
<line x1="43" y1="387.27" x2="46" y2="387.27"/>
<line x1="329.2" y1="387.27" x2="332" y2="387.27"/>
<line x1="43" y1="352.25" x2="46" y2="352.25"/>
<line x1="329.2" y1="352.25" x2="332" y2="352.25"/>
<line x1="43" y1="317.23" x2="46" y2="317.23"/>
<line x1="329.2" y1="317.23" x2="332" y2="317.23"/>
<line x1="43" y1="282.21" x2="46" y2="282.21"/>
<line x1="329.2" y1="282.21" x2="332" y2="282.21"/>
</g>
<g clip-path="url(#cb)" fill="none" stroke-linejoin="round">
<path d="M118.00,438.40 L116.55,437.94 L115.03,437.33 L113.43,436.62 L111.79,435.84 L110.11,435.01 L108.41,434.17 L106.70,433.36 L105.00,432.60 L103.16,431.83 L101.28,431.06 L99.35,430.29 L97.42,429.52 L95.50,428.76 L93.61,428.00 L91.77,427.25 L90.00,426.50 L88.51,425.87 L87.03,425.25 L85.58,424.64 L84.15,424.03 L82.77,423.42 L81.44,422.80 L80.18,422.16 L79.00,421.50 L78.12,420.98 L77.29,420.46 L76.49,419.95 L75.72,419.42 L74.99,418.87 L74.30,418.29 L73.63,417.67 L73.00,417.00 L72.37,416.24 L71.78,415.43 L71.22,414.57 L70.70,413.68 L70.21,412.77 L69.76,411.85 L69.36,410.92 L69.00,410.00 L68.70,409.13 L68.43,408.24 L68.20,407.35 L68.01,406.45 L67.85,405.55 L67.73,404.63 L67.65,403.72 L67.60,402.80 L67.59,401.84 L67.64,400.88 L67.72,399.91 L67.84,398.93 L67.99,397.95 L68.18,396.97 L68.38,395.98 L68.60,395.00 L68.85,393.94 L69.12,392.88 L69.42,391.80 L69.74,390.73 L70.11,389.66 L70.52,388.59 L70.98,387.54 L71.50,386.50 L72.16,385.37 L72.90,384.26 L73.71,383.18 L74.57,382.10 L75.48,381.02 L76.41,379.91 L77.35,378.78 L78.30,377.60 L79.47,376.12 L80.72,374.57 L82.01,372.97 L83.33,371.35 L84.65,369.72 L85.95,368.11 L87.21,366.53 L88.40,365.00 L89.38,363.72 L90.32,362.48 L91.22,361.27 L92.10,360.07 L92.99,358.86 L93.89,357.62 L94.82,356.34 L95.80,355.00 L97.05,353.29 L98.35,351.53 L99.68,349.73 L101.03,347.87 L102.41,345.97 L103.81,344.02 L105.20,342.03 L106.60,340.00 L108.24,337.53 L109.90,334.90 L111.59,332.19 L113.30,329.43 L115.00,326.68 L116.69,323.99 L118.36,321.41 L120.00,319.00 L121.34,317.12 L122.67,315.33 L123.98,313.61 L125.29,311.93 L126.59,310.28 L127.89,308.64 L129.19,306.99 L130.50,305.30 L131.81,303.59 L133.12,301.88 L134.43,300.16 L135.74,298.45 L137.05,296.75 L138.36,295.05 L139.68,293.37 L141.00,291.70 L142.29,290.08 L143.57,288.44 L144.85,286.81 L146.13,285.20 L147.42,283.61 L148.73,282.05 L150.05,280.55 L151.40,279.10 L152.67,277.80 L153.95,276.52 L155.24,275.27 L156.54,274.07 L157.86,272.90 L159.19,271.78 L160.54,270.71 L161.90,269.70 L163.17,268.81 L164.46,267.95 L165.75,267.13 L167.06,266.36 L168.38,265.63 L169.71,264.96 L171.05,264.35 L172.40,263.80 L173.69,263.33 L175.00,262.91 L176.33,262.54 L177.66,262.21 L178.99,261.94 L180.31,261.73 L181.62,261.58 L182.90,261.50 L184.06,261.47 L185.20,261.48 L186.33,261.53 L187.44,261.64 L188.56,261.81 L189.69,262.05 L190.83,262.38 L192.00,262.80 L193.57,263.50 L195.19,264.37 L196.82,265.38 L198.47,266.52 L200.13,267.77 L201.78,269.11 L203.40,270.53 L205.00,272.00 L206.94,273.94 L208.87,276.05 L210.78,278.30 L212.68,280.69 L214.55,283.17 L216.39,285.73 L218.21,288.35 L220.00,291.00 L222.00,294.10 L223.99,297.36 L225.96,300.75 L227.89,304.21 L229.77,307.70 L231.57,311.17 L233.29,314.59 L234.90,317.90 L236.20,320.74 L237.40,323.54 L238.52,326.32 L239.59,329.08 L240.64,331.82 L241.69,334.55 L242.76,337.27 L243.90,340.00 L245.07,342.70 L246.25,345.39 L247.44,348.07 L248.65,350.74 L249.86,353.41 L251.10,356.07 L252.34,358.73 L253.60,361.40 L254.89,364.09 L256.21,366.79 L257.55,369.48 L258.89,372.16 L260.25,374.85 L261.60,377.53 L262.96,380.22 L264.30,382.90 L265.64,385.59 L267.00,388.31 L268.36,391.04 L269.72,393.75 L271.07,396.45 L272.41,399.12 L273.72,401.74 L275.00,404.30 L276.16,406.56 L277.35,408.81 L278.54,411.05 L279.71,413.25 L280.83,415.40 L281.87,417.48 L282.80,419.49 L283.60,421.40 L284.13,422.73 L284.65,424.03 L285.14,425.30 L285.57,426.53 L285.93,427.71 L286.19,428.86 L286.32,429.96 L286.30,431.00 L286.18,431.80 L285.98,432.58 L285.71,433.34 L285.38,434.08 L284.98,434.77 L284.53,435.41 L284.04,435.99 L283.50,436.50 L282.88,436.95 L282.20,437.32 L281.46,437.62 L280.66,437.86 L279.81,438.07 L278.92,438.25 L277.98,438.42 L277.00,438.60 L275.48,438.84 L273.88,439.01 L272.18,439.12 L270.37,439.20 L268.46,439.26 L266.43,439.30 L264.28,439.34 L262.00,439.40 L257.81,439.50 L253.16,439.57 L248.13,439.62 L242.79,439.65 L237.23,439.66 L231.52,439.67 L225.75,439.68 L220.00,439.70 L212.90,439.72 L205.37,439.74 L197.58,439.76 L189.66,439.77 L181.79,439.77 L174.12,439.76 L166.80,439.74 L160.00,439.70 L154.99,439.67 L149.96,439.65 L145.01,439.62 L140.24,439.59 L135.75,439.54 L131.65,439.46 L128.03,439.35 L125.00,439.20 L123.88,439.14 L122.91,439.09 L122.06,439.05 L121.27,438.99 L120.52,438.91 L119.75,438.80 L118.92,438.63 L118.00,438.40Z" stroke="#5514e4" stroke-width="1.80"/>
<path d="M118.00,438.20 L117.28,437.95 L116.60,437.66 L115.96,437.35 L115.32,437.01 L114.67,436.67 L113.98,436.31 L113.23,435.95 L112.40,435.60 L110.85,435.04 L109.06,434.45 L107.10,433.85 L105.05,433.24 L102.99,432.63 L100.99,432.01 L99.13,431.40 L97.50,430.80 L96.47,430.40 L95.47,430.02 L94.53,429.65 L93.62,429.28 L92.77,428.89 L91.96,428.47 L91.20,428.01 L90.50,427.50 L89.93,427.02 L89.39,426.50 L88.88,425.96 L88.41,425.40 L87.98,424.82 L87.60,424.22 L87.27,423.61 L87.00,423.00 L86.80,422.41 L86.65,421.80 L86.55,421.17 L86.49,420.54 L86.47,419.90 L86.48,419.26 L86.53,418.62 L86.60,418.00 L86.71,417.37 L86.86,416.75 L87.04,416.14 L87.26,415.53 L87.52,414.92 L87.81,414.29 L88.14,413.66 L88.50,413.00 L89.07,412.06 L89.73,411.10 L90.46,410.12 L91.26,409.12 L92.12,408.10 L93.03,407.05 L94.00,405.99 L95.00,404.90 L96.50,403.36 L98.17,401.77 L99.96,400.13 L101.84,398.45 L103.77,396.74 L105.72,395.01 L107.64,393.26 L109.50,391.50 L111.43,389.60 L113.39,387.63 L115.35,385.63 L117.31,383.60 L119.25,381.59 L121.17,379.60 L123.06,377.66 L124.90,375.80 L126.48,374.21 L128.04,372.62 L129.58,371.05 L131.10,369.51 L132.59,368.02 L134.06,366.60 L135.49,365.25 L136.90,364.00 L137.96,363.10 L138.99,362.25 L140.00,361.45 L141.00,360.69 L141.98,359.96 L142.98,359.26 L143.98,358.57 L145.00,357.90 L145.97,357.27 L146.93,356.65 L147.89,356.05 L148.85,355.47 L149.83,354.92 L150.85,354.41 L151.90,353.93 L153.00,353.50 L154.33,353.04 L155.73,352.60 L157.18,352.19 L158.67,351.84 L160.18,351.55 L161.70,351.36 L163.21,351.27 L164.70,351.30 L166.28,351.47 L167.90,351.75 L169.52,352.14 L171.15,352.63 L172.76,353.22 L174.33,353.90 L175.85,354.66 L177.30,355.50 L178.75,356.48 L180.14,357.58 L181.49,358.78 L182.78,360.07 L184.04,361.45 L185.28,362.91 L186.49,364.42 L187.70,366.00 L189.13,368.03 L190.53,370.22 L191.89,372.54 L193.21,374.95 L194.50,377.42 L195.76,379.91 L197.00,382.38 L198.20,384.80 L199.35,387.14 L200.48,389.48 L201.57,391.84 L202.64,394.20 L203.68,396.57 L204.68,398.94 L205.66,401.32 L206.60,403.70 L207.49,406.10 L208.34,408.58 L209.16,411.10 L209.95,413.61 L210.72,416.06 L211.46,418.41 L212.19,420.60 L212.90,422.60 L213.41,423.83 L213.98,424.98 L214.56,426.08 L215.12,427.12 L215.63,428.12 L216.03,429.09 L216.30,430.05 L216.40,431.00 L216.35,431.80 L216.22,432.61 L216.01,433.42 L215.72,434.20 L215.37,434.95 L214.96,435.64 L214.50,436.26 L214.00,436.80 L213.45,437.24 L212.83,437.60 L212.17,437.88 L211.44,438.11 L210.66,438.30 L209.83,438.47 L208.94,438.63 L208.00,438.80 L206.27,439.06 L204.36,439.24 L202.29,439.36 L200.06,439.44 L197.70,439.49 L195.23,439.52 L192.66,439.55 L190.00,439.60 L185.69,439.68 L180.89,439.73 L175.74,439.76 L170.40,439.77 L165.01,439.77 L159.71,439.75 L154.66,439.73 L150.00,439.70 L146.49,439.69 L142.98,439.68 L139.52,439.68 L136.17,439.66 L132.99,439.63 L130.03,439.56 L127.34,439.46 L125.00,439.30 L123.91,439.20 L122.92,439.11 L122.01,439.01 L121.16,438.90 L120.36,438.77 L119.57,438.61 L118.80,438.43 L118.00,438.20Z" stroke="#4664ef" stroke-width="1.60"/>
<path d="M118.00,438.60 L116.88,438.39 L115.77,438.17 L114.68,437.94 L113.61,437.69 L112.60,437.40 L111.65,437.08 L110.78,436.72 L110.00,436.30 L109.47,435.96 L108.95,435.60 L108.46,435.21 L108.01,434.80 L107.62,434.38 L107.30,433.93 L107.05,433.47 L106.90,433.00 L106.85,432.49 L106.91,431.94 L107.05,431.38 L107.27,430.79 L107.53,430.20 L107.84,429.62 L108.17,429.05 L108.50,428.50 L108.91,427.89 L109.38,427.31 L109.90,426.74 L110.46,426.18 L111.06,425.61 L111.68,425.03 L112.33,424.43 L113.00,423.80 L113.96,422.85 L115.01,421.82 L116.12,420.73 L117.27,419.62 L118.45,418.53 L119.64,417.49 L120.83,416.53 L122.00,415.70 L122.99,415.08 L123.98,414.51 L124.98,413.99 L125.99,413.51 L126.99,413.07 L128.00,412.68 L129.00,412.32 L130.00,412.00 L130.90,411.73 L131.78,411.47 L132.66,411.25 L133.54,411.05 L134.43,410.91 L135.33,410.81 L136.25,410.77 L137.20,410.80 L138.39,410.91 L139.65,411.09 L140.95,411.35 L142.26,411.68 L143.55,412.10 L144.81,412.60 L146.00,413.20 L147.10,413.90 L148.20,414.81 L149.25,415.89 L150.24,417.10 L151.17,418.41 L152.04,419.77 L152.85,421.15 L153.61,422.50 L154.30,423.80 L154.89,424.92 L155.47,426.07 L156.02,427.23 L156.51,428.39 L156.93,429.53 L157.25,430.64 L157.45,431.70 L157.50,432.70 L157.44,433.46 L157.31,434.21 L157.11,434.95 L156.85,435.67 L156.53,436.34 L156.14,436.97 L155.70,437.52 L155.20,438.00 L154.56,438.43 L153.82,438.76 L153.01,438.99 L152.12,439.17 L151.16,439.29 L150.15,439.39 L149.09,439.49 L148.00,439.60 L146.12,439.76 L143.99,439.87 L141.69,439.92 L139.29,439.93 L136.84,439.91 L134.44,439.86 L132.13,439.78 L130.00,439.70 L128.36,439.63 L126.77,439.54 L125.21,439.45 L123.68,439.33 L122.20,439.19 L120.76,439.03 L119.36,438.83 L118.00,438.60Z" stroke="#2a86f4" stroke-width="1.70"/>
<path d="M118.00,439.00 L117.07,438.89 L116.12,438.78 L115.17,438.67 L114.25,438.53 L113.39,438.36 L112.63,438.14 L111.99,437.86 L111.50,437.50 L111.25,437.20 L111.04,436.87 L110.87,436.50 L110.75,436.12 L110.69,435.72 L110.67,435.31 L110.71,434.90 L110.80,434.50 L111.11,433.84 L111.64,433.15 L112.33,432.42 L113.14,431.70 L114.02,430.98 L114.92,430.30 L115.80,429.67 L116.60,429.10 L117.25,428.65 L117.90,428.22 L118.55,427.83 L119.21,427.46 L119.88,427.12 L120.56,426.81 L121.27,426.54 L122.00,426.30 L122.83,426.07 L123.70,425.86 L124.60,425.68 L125.52,425.54 L126.44,425.45 L127.35,425.42 L128.24,425.47 L129.10,425.60 L129.95,425.82 L130.82,426.13 L131.69,426.52 L132.54,426.96 L133.35,427.46 L134.11,427.98 L134.80,428.54 L135.40,429.10 L135.86,429.59 L136.30,430.12 L136.70,430.68 L137.06,431.26 L137.36,431.84 L137.59,432.44 L137.74,433.02 L137.80,433.60 L137.76,434.19 L137.64,434.82 L137.44,435.46 L137.16,436.10 L136.83,436.71 L136.43,437.28 L135.99,437.78 L135.50,438.20 L134.82,438.59 L134.01,438.87 L133.12,439.07 L132.14,439.19 L131.12,439.27 L130.08,439.31 L129.03,439.35 L128.00,439.40 L126.81,439.45 L125.55,439.47 L124.26,439.46 L122.95,439.42 L121.65,439.35 L120.38,439.26 L119.15,439.14 L118.00,439.00Z" stroke="#4ae812" stroke-width="1.80"/>
<path d="M119.50,439.50 L119.59,439.41 L119.87,439.29 L120.29,439.16 L120.80,439.01 L121.37,438.85 L121.96,438.70 L122.51,438.54 L123.00,438.40 L123.44,438.25 L123.88,438.09 L124.32,437.92 L124.76,437.76 L125.20,437.60 L125.63,437.47 L126.07,437.37 L126.50,437.30 L126.93,437.26 L127.39,437.24 L127.88,437.23 L128.35,437.24 L128.78,437.28 L129.15,437.35 L129.44,437.45 L129.60,437.60 L129.65,437.76 L129.64,437.96 L129.58,438.19 L129.48,438.44 L129.35,438.69 L129.18,438.93 L129.00,439.13 L128.80,439.30 L128.41,439.48 L127.90,439.59 L127.31,439.65 L126.66,439.66 L125.98,439.65 L125.29,439.62 L124.62,439.60 L124.00,439.60 L123.37,439.61 L122.66,439.63 L121.92,439.64 L121.19,439.65 L120.54,439.64 L120.00,439.62 L119.64,439.57 L119.50,439.50Z" stroke="#dbe612" stroke-width="1.60"/>
</g>
<g font-family="Liberation Sans, sans-serif" fill="#1a1a1a" stroke="#1a1a1a" stroke-width="0">
<text x="6" y="12.9" font-size="18" stroke-width="0">a</text>
<text x="6.2" y="242" font-size="18" stroke-width="0">b</text>
<text x="37.6" y="192.10" font-size="11" text-anchor="end">1.2</text>
<text x="37.6" y="159.90" font-size="11" text-anchor="end">1.3</text>
<text x="37.6" y="127.70" font-size="11" text-anchor="end">1.4</text>
<text x="37.6" y="95.50" font-size="11" text-anchor="end">1.5</text>
<text x="37.6" y="63.30" font-size="11" text-anchor="end">1.6</text>
<text x="37.6" y="31.10" font-size="11" text-anchor="end">1.7</text>
<text x="52.00" y="211.6" font-size="11" text-anchor="middle">400</text>
<text x="114.00" y="211.6" font-size="11" text-anchor="middle">500</text>
<text x="176.00" y="211.6" font-size="11" text-anchor="middle">600</text>
<text x="238.00" y="211.6" font-size="11" text-anchor="middle">700</text>
<text x="300.00" y="211.6" font-size="11" text-anchor="middle">800</text>
<text x="188.8" y="230.0" font-size="13" stroke-width="0.2" text-anchor="middle">wavelength (nm)</text>
<text transform="translate(13.6,94.25) rotate(-90)" font-size="13" stroke-width="0.2" text-anchor="middle">refractive index</text>
<text x="37.6" y="443.60" font-size="11" text-anchor="end">0</text>
<text x="37.6" y="408.58" font-size="11" text-anchor="end">2</text>
<text x="37.6" y="373.56" font-size="11" text-anchor="end">4</text>
<text x="37.6" y="338.54" font-size="11" text-anchor="end">6</text>
<text x="37.6" y="303.52" font-size="11" text-anchor="end">8</text>
<text x="37.6" y="268.50" font-size="11" text-anchor="end">10</text>
<text x="69.38" y="457.4" font-size="11" text-anchor="middle">-0.1</text>
<text x="117.10" y="457.4" font-size="11" text-anchor="middle">0.0</text>
<text x="164.82" y="457.4" font-size="11" text-anchor="middle">0.1</text>
<text x="212.54" y="457.4" font-size="11" text-anchor="middle">0.2</text>
<text x="260.26" y="457.4" font-size="11" text-anchor="middle">0.3</text>
<text x="307.98" y="457.4" font-size="11" text-anchor="middle">0.4</text>
<text x="188.9" y="474.6" font-size="12.2" text-anchor="middle">Δn</text>
<text transform="translate(13.8,336) rotate(-90)" font-size="13" stroke-width="0.2" text-anchor="middle">absorption coefficient (μm<tspan font-size="8" dy="-7">-1</tspan><tspan dy="7">)</tspan></text>
<text x="144.4" y="30.30" font-size="11.5" text-anchor="end">600 mM</text>
<text x="144.4" y="44.60" font-size="11.5" text-anchor="end">300 mM</text>
<text x="144.4" y="59.20" font-size="11.5" text-anchor="end">100 mM</text>
<text x="144.4" y="73.60" font-size="11.5" text-anchor="end">50 mM</text>
<text x="144.4" y="88.20" font-size="11.5" text-anchor="end">10 mM</text>
</g>
</svg>
</body></html>
